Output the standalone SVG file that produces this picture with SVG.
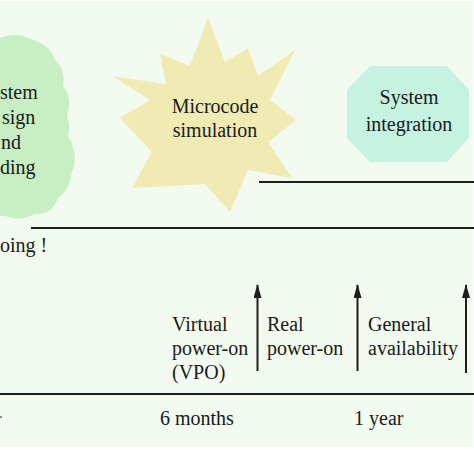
<svg xmlns="http://www.w3.org/2000/svg" width="474" height="474" viewBox="0 0 474 474">
<defs>
<style>
text{font-family:"Liberation Serif","Times New Roman",serif;font-size:20px;fill:#1a1a1a}
.c{text-anchor:middle}
.ln{stroke:#1e1e1e;stroke-width:2;fill:none}
.ar{stroke:#1e1e1e;stroke-width:2;fill:none;marker-end:url(#ah)}
</style>
<marker id="ah" viewBox="0 0 14 8" refX="13" refY="4" markerWidth="14" markerHeight="8" markerUnits="userSpaceOnUse" orient="auto">
<path d="M0,0 L14,4 L0,8 Z" fill="#1e1e1e"/>
</marker>
</defs>
<rect x="0" y="1" width="473" height="446" fill="#f3fbf0"/>
<g id="design">
<path d="M-5,40 Q15,30 30,39 Q50,44 55,60 Q66,70 63,86 Q73,97 67,116 Q71,126 68,136 Q79,155 72,172 Q70,190 58,198 Q52,215 35,214 Q20,222 5,216 L-5,216 Z" fill="#c8eec4"/>
<text x="0" y="99">stem</text>
<text x="2" y="124">sign</text>
<text x="1" y="149">nd</text>
<text x="0" y="174">ding</text>
</g>
<g id="microcode">
<polygon points="208,18 225,62 248,48 258,76 295,50 270,100 296,120 268,142 292,178 248,170 230,212 205,184 132,188 152,152 120,118 150,100 112,76 166,84 160,54 190,66" fill="#efebb2"/>
<text class="c" x="215" y="113">Microcode</text>
<text class="c" x="215" y="137">simulation</text>
</g>
<g id="integration">
<polygon points="370,66 447,66 469,90 469,138 447,162 370,162 347,138 347,90" fill="#c6f2e2"/>
<text class="c" x="409" y="104">System</text>
<text class="c" x="409" y="131">integration</text>
</g>
<g id="ongoing">
<text x="0" y="252">oing !</text>
</g>
<g id="milestones">
<text x="172" y="331">Virtual</text>
<text x="172" y="355">power-on</text>
<text x="172" y="379">(VPO)</text>
<text x="267" y="331">Real</text>
<text x="267" y="355">power-on</text>
<text x="368" y="331">General</text>
<text x="368" y="355">availability</text>
</g>
<g id="timeline">
<text x="160" y="425">6 months</text>
<text x="354" y="425">1 year</text>
<line x1="0" y1="417" x2="2" y2="417" stroke="#888" stroke-width="2"/>
</g>
<g id="connectors">
<line class="ln" x1="259" y1="182" x2="474" y2="182"/>
<line class="ln" x1="31" y1="228" x2="474" y2="228"/>
<line class="ln" x1="0" y1="394" x2="474" y2="394"/>
<line class="ar" x1="257.5" y1="371" x2="257.5" y2="285"/>
<line class="ar" x1="357.5" y1="371" x2="357.5" y2="285"/>
<line class="ar" x1="466" y1="373" x2="466" y2="285"/>
</g>
</svg>
